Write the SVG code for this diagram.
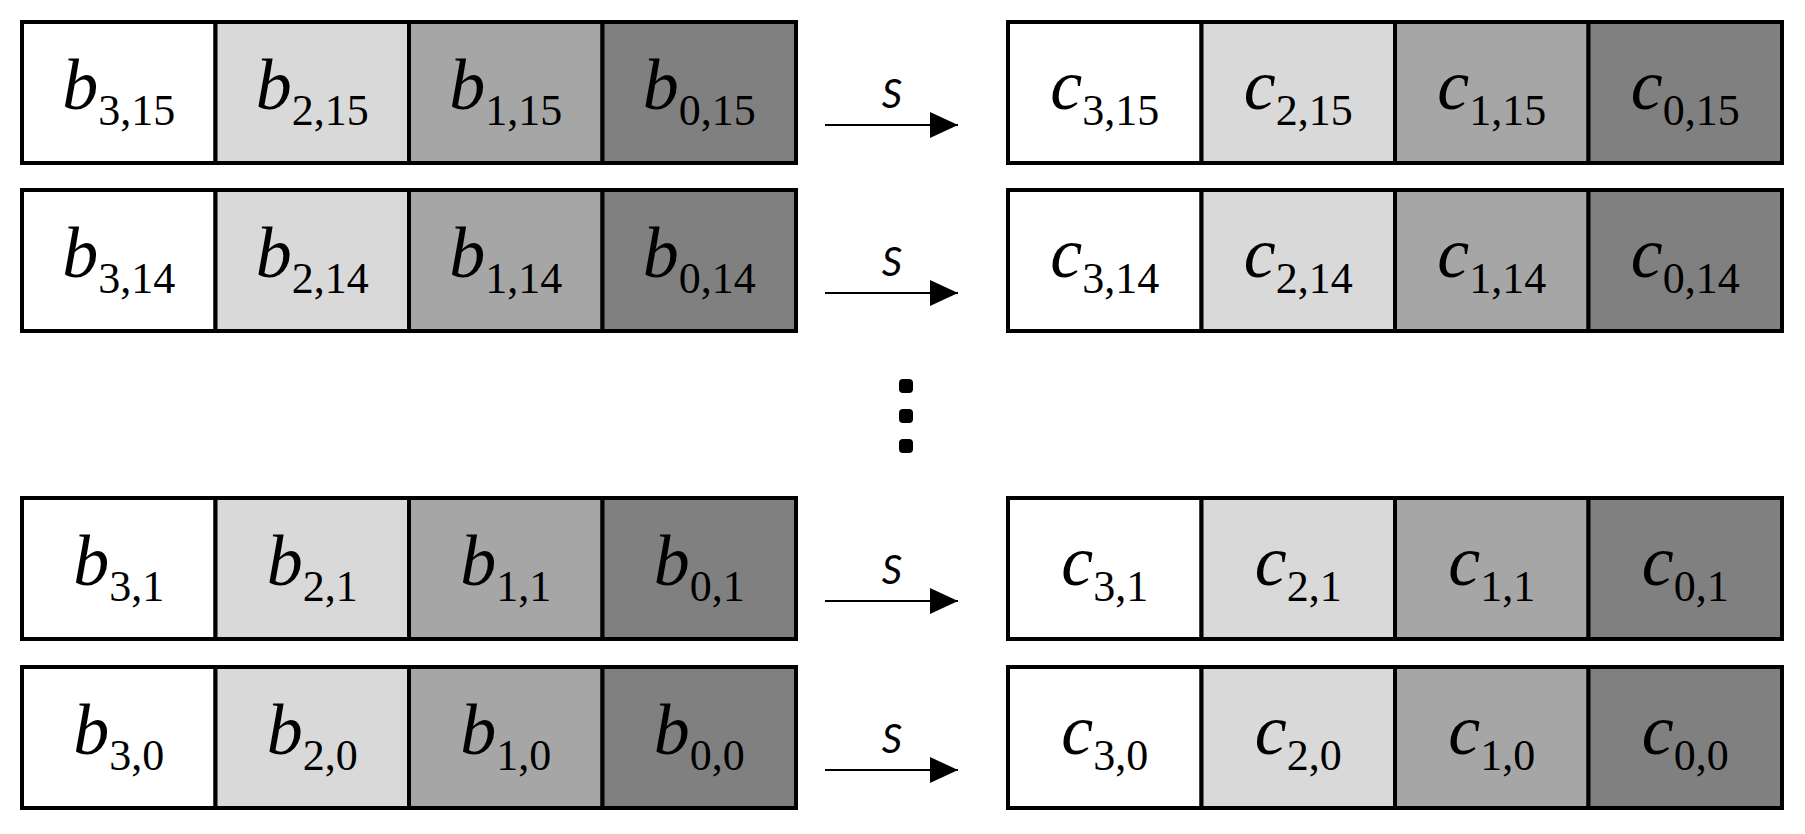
<svg xmlns="http://www.w3.org/2000/svg" width="1805" height="834" viewBox="0 0 1805 834">
<defs>
<marker id="ah" viewBox="0 0 28 26" refX="28" refY="13" markerWidth="28" markerHeight="26" markerUnits="userSpaceOnUse" orient="auto">
<path d="M0,0 L28,13 L0,26 Z" fill="#000"/>
</marker>
</defs>
<rect width="1805" height="834" fill="#fff"/>

<g id="cells" stroke-width="4">
<!-- Row 15 -->
<g id="b3_15"><rect fill="#ffffff" stroke="#000" x="22" y="22" width="193.5" height="141"/><text x="118.75" y="108.5" font-family="Liberation Serif" font-size="72" text-anchor="middle"><tspan font-family="Liberation Serif" font-style="italic">b</tspan><tspan font-family="Liberation Serif" font-size="44" dy="16">3,15</tspan></text></g>
<g id="b2_15"><rect fill="#d9d9d9" stroke="#000" x="215.5" y="22" width="193.5" height="141"/><text x="312.25" y="108.5" font-family="Liberation Serif" font-size="72" text-anchor="middle"><tspan font-family="Liberation Serif" font-style="italic">b</tspan><tspan font-family="Liberation Serif" font-size="44" dy="16">2,15</tspan></text></g>
<g id="b1_15"><rect fill="#a6a6a6" stroke="#000" x="409" y="22" width="193.5" height="141"/><text x="505.75" y="108.5" font-family="Liberation Serif" font-size="72" text-anchor="middle"><tspan font-family="Liberation Serif" font-style="italic">b</tspan><tspan font-family="Liberation Serif" font-size="44" dy="16">1,15</tspan></text></g>
<g id="b0_15"><rect fill="#808080" stroke="#000" x="602.5" y="22" width="193.5" height="141"/><text x="699.25" y="108.5" font-family="Liberation Serif" font-size="72" text-anchor="middle"><tspan font-family="Liberation Serif" font-style="italic">b</tspan><tspan font-family="Liberation Serif" font-size="44" dy="16">0,15</tspan></text></g>
<g id="c3_15"><rect fill="#ffffff" stroke="#000" x="1008" y="22" width="193.5" height="141"/><text x="1104.75" y="108.5" font-family="Liberation Serif" font-size="72" text-anchor="middle"><tspan font-family="Liberation Serif" font-style="italic">c</tspan><tspan font-family="Liberation Serif" font-size="44" dy="16">3,15</tspan></text></g>
<g id="c2_15"><rect fill="#d9d9d9" stroke="#000" x="1201.5" y="22" width="193.5" height="141"/><text x="1298.25" y="108.5" font-family="Liberation Serif" font-size="72" text-anchor="middle"><tspan font-family="Liberation Serif" font-style="italic">c</tspan><tspan font-family="Liberation Serif" font-size="44" dy="16">2,15</tspan></text></g>
<g id="c1_15"><rect fill="#a6a6a6" stroke="#000" x="1395" y="22" width="193.5" height="141"/><text x="1491.75" y="108.5" font-family="Liberation Serif" font-size="72" text-anchor="middle"><tspan font-family="Liberation Serif" font-style="italic">c</tspan><tspan font-family="Liberation Serif" font-size="44" dy="16">1,15</tspan></text></g>
<g id="c0_15"><rect fill="#808080" stroke="#000" x="1588.5" y="22" width="193.5" height="141"/><text x="1685.25" y="108.5" font-family="Liberation Serif" font-size="72" text-anchor="middle"><tspan font-family="Liberation Serif" font-style="italic">c</tspan><tspan font-family="Liberation Serif" font-size="44" dy="16">0,15</tspan></text></g>

<!-- Row 14 -->
<g id="b3_14"><rect fill="#ffffff" stroke="#000" x="22" y="190" width="193.5" height="141"/><text x="118.75" y="276.5" font-family="Liberation Serif" font-size="72" text-anchor="middle"><tspan font-family="Liberation Serif" font-style="italic">b</tspan><tspan font-family="Liberation Serif" font-size="44" dy="16">3,14</tspan></text></g>
<g id="b2_14"><rect fill="#d9d9d9" stroke="#000" x="215.5" y="190" width="193.5" height="141"/><text x="312.25" y="276.5" font-family="Liberation Serif" font-size="72" text-anchor="middle"><tspan font-family="Liberation Serif" font-style="italic">b</tspan><tspan font-family="Liberation Serif" font-size="44" dy="16">2,14</tspan></text></g>
<g id="b1_14"><rect fill="#a6a6a6" stroke="#000" x="409" y="190" width="193.5" height="141"/><text x="505.75" y="276.5" font-family="Liberation Serif" font-size="72" text-anchor="middle"><tspan font-family="Liberation Serif" font-style="italic">b</tspan><tspan font-family="Liberation Serif" font-size="44" dy="16">1,14</tspan></text></g>
<g id="b0_14"><rect fill="#808080" stroke="#000" x="602.5" y="190" width="193.5" height="141"/><text x="699.25" y="276.5" font-family="Liberation Serif" font-size="72" text-anchor="middle"><tspan font-family="Liberation Serif" font-style="italic">b</tspan><tspan font-family="Liberation Serif" font-size="44" dy="16">0,14</tspan></text></g>
<g id="c3_14"><rect fill="#ffffff" stroke="#000" x="1008" y="190" width="193.5" height="141"/><text x="1104.75" y="276.5" font-family="Liberation Serif" font-size="72" text-anchor="middle"><tspan font-family="Liberation Serif" font-style="italic">c</tspan><tspan font-family="Liberation Serif" font-size="44" dy="16">3,14</tspan></text></g>
<g id="c2_14"><rect fill="#d9d9d9" stroke="#000" x="1201.5" y="190" width="193.5" height="141"/><text x="1298.25" y="276.5" font-family="Liberation Serif" font-size="72" text-anchor="middle"><tspan font-family="Liberation Serif" font-style="italic">c</tspan><tspan font-family="Liberation Serif" font-size="44" dy="16">2,14</tspan></text></g>
<g id="c1_14"><rect fill="#a6a6a6" stroke="#000" x="1395" y="190" width="193.5" height="141"/><text x="1491.75" y="276.5" font-family="Liberation Serif" font-size="72" text-anchor="middle"><tspan font-family="Liberation Serif" font-style="italic">c</tspan><tspan font-family="Liberation Serif" font-size="44" dy="16">1,14</tspan></text></g>
<g id="c0_14"><rect fill="#808080" stroke="#000" x="1588.5" y="190" width="193.5" height="141"/><text x="1685.25" y="276.5" font-family="Liberation Serif" font-size="72" text-anchor="middle"><tspan font-family="Liberation Serif" font-style="italic">c</tspan><tspan font-family="Liberation Serif" font-size="44" dy="16">0,14</tspan></text></g>

<!-- Row 1 -->
<g id="b3_1"><rect fill="#ffffff" stroke="#000" x="22" y="498" width="193.5" height="141"/><text x="118.75" y="584.5" font-family="Liberation Serif" font-size="72" text-anchor="middle"><tspan font-family="Liberation Serif" font-style="italic">b</tspan><tspan font-family="Liberation Serif" font-size="44" dy="16">3,1</tspan></text></g>
<g id="b2_1"><rect fill="#d9d9d9" stroke="#000" x="215.5" y="498" width="193.5" height="141"/><text x="312.25" y="584.5" font-family="Liberation Serif" font-size="72" text-anchor="middle"><tspan font-family="Liberation Serif" font-style="italic">b</tspan><tspan font-family="Liberation Serif" font-size="44" dy="16">2,1</tspan></text></g>
<g id="b1_1"><rect fill="#a6a6a6" stroke="#000" x="409" y="498" width="193.5" height="141"/><text x="505.75" y="584.5" font-family="Liberation Serif" font-size="72" text-anchor="middle"><tspan font-family="Liberation Serif" font-style="italic">b</tspan><tspan font-family="Liberation Serif" font-size="44" dy="16">1,1</tspan></text></g>
<g id="b0_1"><rect fill="#808080" stroke="#000" x="602.5" y="498" width="193.5" height="141"/><text x="699.25" y="584.5" font-family="Liberation Serif" font-size="72" text-anchor="middle"><tspan font-family="Liberation Serif" font-style="italic">b</tspan><tspan font-family="Liberation Serif" font-size="44" dy="16">0,1</tspan></text></g>
<g id="c3_1"><rect fill="#ffffff" stroke="#000" x="1008" y="498" width="193.5" height="141"/><text x="1104.75" y="584.5" font-family="Liberation Serif" font-size="72" text-anchor="middle"><tspan font-family="Liberation Serif" font-style="italic">c</tspan><tspan font-family="Liberation Serif" font-size="44" dy="16">3,1</tspan></text></g>
<g id="c2_1"><rect fill="#d9d9d9" stroke="#000" x="1201.5" y="498" width="193.5" height="141"/><text x="1298.25" y="584.5" font-family="Liberation Serif" font-size="72" text-anchor="middle"><tspan font-family="Liberation Serif" font-style="italic">c</tspan><tspan font-family="Liberation Serif" font-size="44" dy="16">2,1</tspan></text></g>
<g id="c1_1"><rect fill="#a6a6a6" stroke="#000" x="1395" y="498" width="193.5" height="141"/><text x="1491.75" y="584.5" font-family="Liberation Serif" font-size="72" text-anchor="middle"><tspan font-family="Liberation Serif" font-style="italic">c</tspan><tspan font-family="Liberation Serif" font-size="44" dy="16">1,1</tspan></text></g>
<g id="c0_1"><rect fill="#808080" stroke="#000" x="1588.5" y="498" width="193.5" height="141"/><text x="1685.25" y="584.5" font-family="Liberation Serif" font-size="72" text-anchor="middle"><tspan font-family="Liberation Serif" font-style="italic">c</tspan><tspan font-family="Liberation Serif" font-size="44" dy="16">0,1</tspan></text></g>

<!-- Row 0 -->
<g id="b3_0"><rect fill="#ffffff" stroke="#000" x="22" y="667" width="193.5" height="141"/><text x="118.75" y="753.5" font-family="Liberation Serif" font-size="72" text-anchor="middle"><tspan font-family="Liberation Serif" font-style="italic">b</tspan><tspan font-family="Liberation Serif" font-size="44" dy="16">3,0</tspan></text></g>
<g id="b2_0"><rect fill="#d9d9d9" stroke="#000" x="215.5" y="667" width="193.5" height="141"/><text x="312.25" y="753.5" font-family="Liberation Serif" font-size="72" text-anchor="middle"><tspan font-family="Liberation Serif" font-style="italic">b</tspan><tspan font-family="Liberation Serif" font-size="44" dy="16">2,0</tspan></text></g>
<g id="b1_0"><rect fill="#a6a6a6" stroke="#000" x="409" y="667" width="193.5" height="141"/><text x="505.75" y="753.5" font-family="Liberation Serif" font-size="72" text-anchor="middle"><tspan font-family="Liberation Serif" font-style="italic">b</tspan><tspan font-family="Liberation Serif" font-size="44" dy="16">1,0</tspan></text></g>
<g id="b0_0"><rect fill="#808080" stroke="#000" x="602.5" y="667" width="193.5" height="141"/><text x="699.25" y="753.5" font-family="Liberation Serif" font-size="72" text-anchor="middle"><tspan font-family="Liberation Serif" font-style="italic">b</tspan><tspan font-family="Liberation Serif" font-size="44" dy="16">0,0</tspan></text></g>
<g id="c3_0"><rect fill="#ffffff" stroke="#000" x="1008" y="667" width="193.5" height="141"/><text x="1104.75" y="753.5" font-family="Liberation Serif" font-size="72" text-anchor="middle"><tspan font-family="Liberation Serif" font-style="italic">c</tspan><tspan font-family="Liberation Serif" font-size="44" dy="16">3,0</tspan></text></g>
<g id="c2_0"><rect fill="#d9d9d9" stroke="#000" x="1201.5" y="667" width="193.5" height="141"/><text x="1298.25" y="753.5" font-family="Liberation Serif" font-size="72" text-anchor="middle"><tspan font-family="Liberation Serif" font-style="italic">c</tspan><tspan font-family="Liberation Serif" font-size="44" dy="16">2,0</tspan></text></g>
<g id="c1_0"><rect fill="#a6a6a6" stroke="#000" x="1395" y="667" width="193.5" height="141"/><text x="1491.75" y="753.5" font-family="Liberation Serif" font-size="72" text-anchor="middle"><tspan font-family="Liberation Serif" font-style="italic">c</tspan><tspan font-family="Liberation Serif" font-size="44" dy="16">1,0</tspan></text></g>
<g id="c0_0"><rect fill="#808080" stroke="#000" x="1588.5" y="667" width="193.5" height="141"/><text x="1685.25" y="753.5" font-family="Liberation Serif" font-size="72" text-anchor="middle"><tspan font-family="Liberation Serif" font-style="italic">c</tspan><tspan font-family="Liberation Serif" font-size="44" dy="16">0,0</tspan></text></g>
</g>

<g id="connectors" stroke="#000" stroke-width="2" fill="none">
<line x1="825" y1="125" x2="958" y2="125" marker-end="url(#ah)"/>
<line x1="825" y1="293" x2="958" y2="293" marker-end="url(#ah)"/>
<line x1="825" y1="601" x2="958" y2="601" marker-end="url(#ah)"/>
<line x1="825" y1="770" x2="958" y2="770" marker-end="url(#ah)"/>
</g>
<g id="labels">
<text x="892" y="108" font-family="Lato" font-style="italic" font-size="40" text-anchor="middle">S</text>
<text x="892" y="276" font-family="Lato" font-style="italic" font-size="40" text-anchor="middle">S</text>
<text x="892" y="584" font-family="Lato" font-style="italic" font-size="40" text-anchor="middle">S</text>
<text x="892" y="753" font-family="Lato" font-style="italic" font-size="40" text-anchor="middle">S</text>
</g>

<g id="ellipsis" fill="#000">
<rect x="899" y="379" width="14" height="14" rx="4"/>
<rect x="899" y="409" width="14" height="14" rx="4"/>
<rect x="899" y="439" width="14" height="14" rx="4"/>
</g>
</svg>
